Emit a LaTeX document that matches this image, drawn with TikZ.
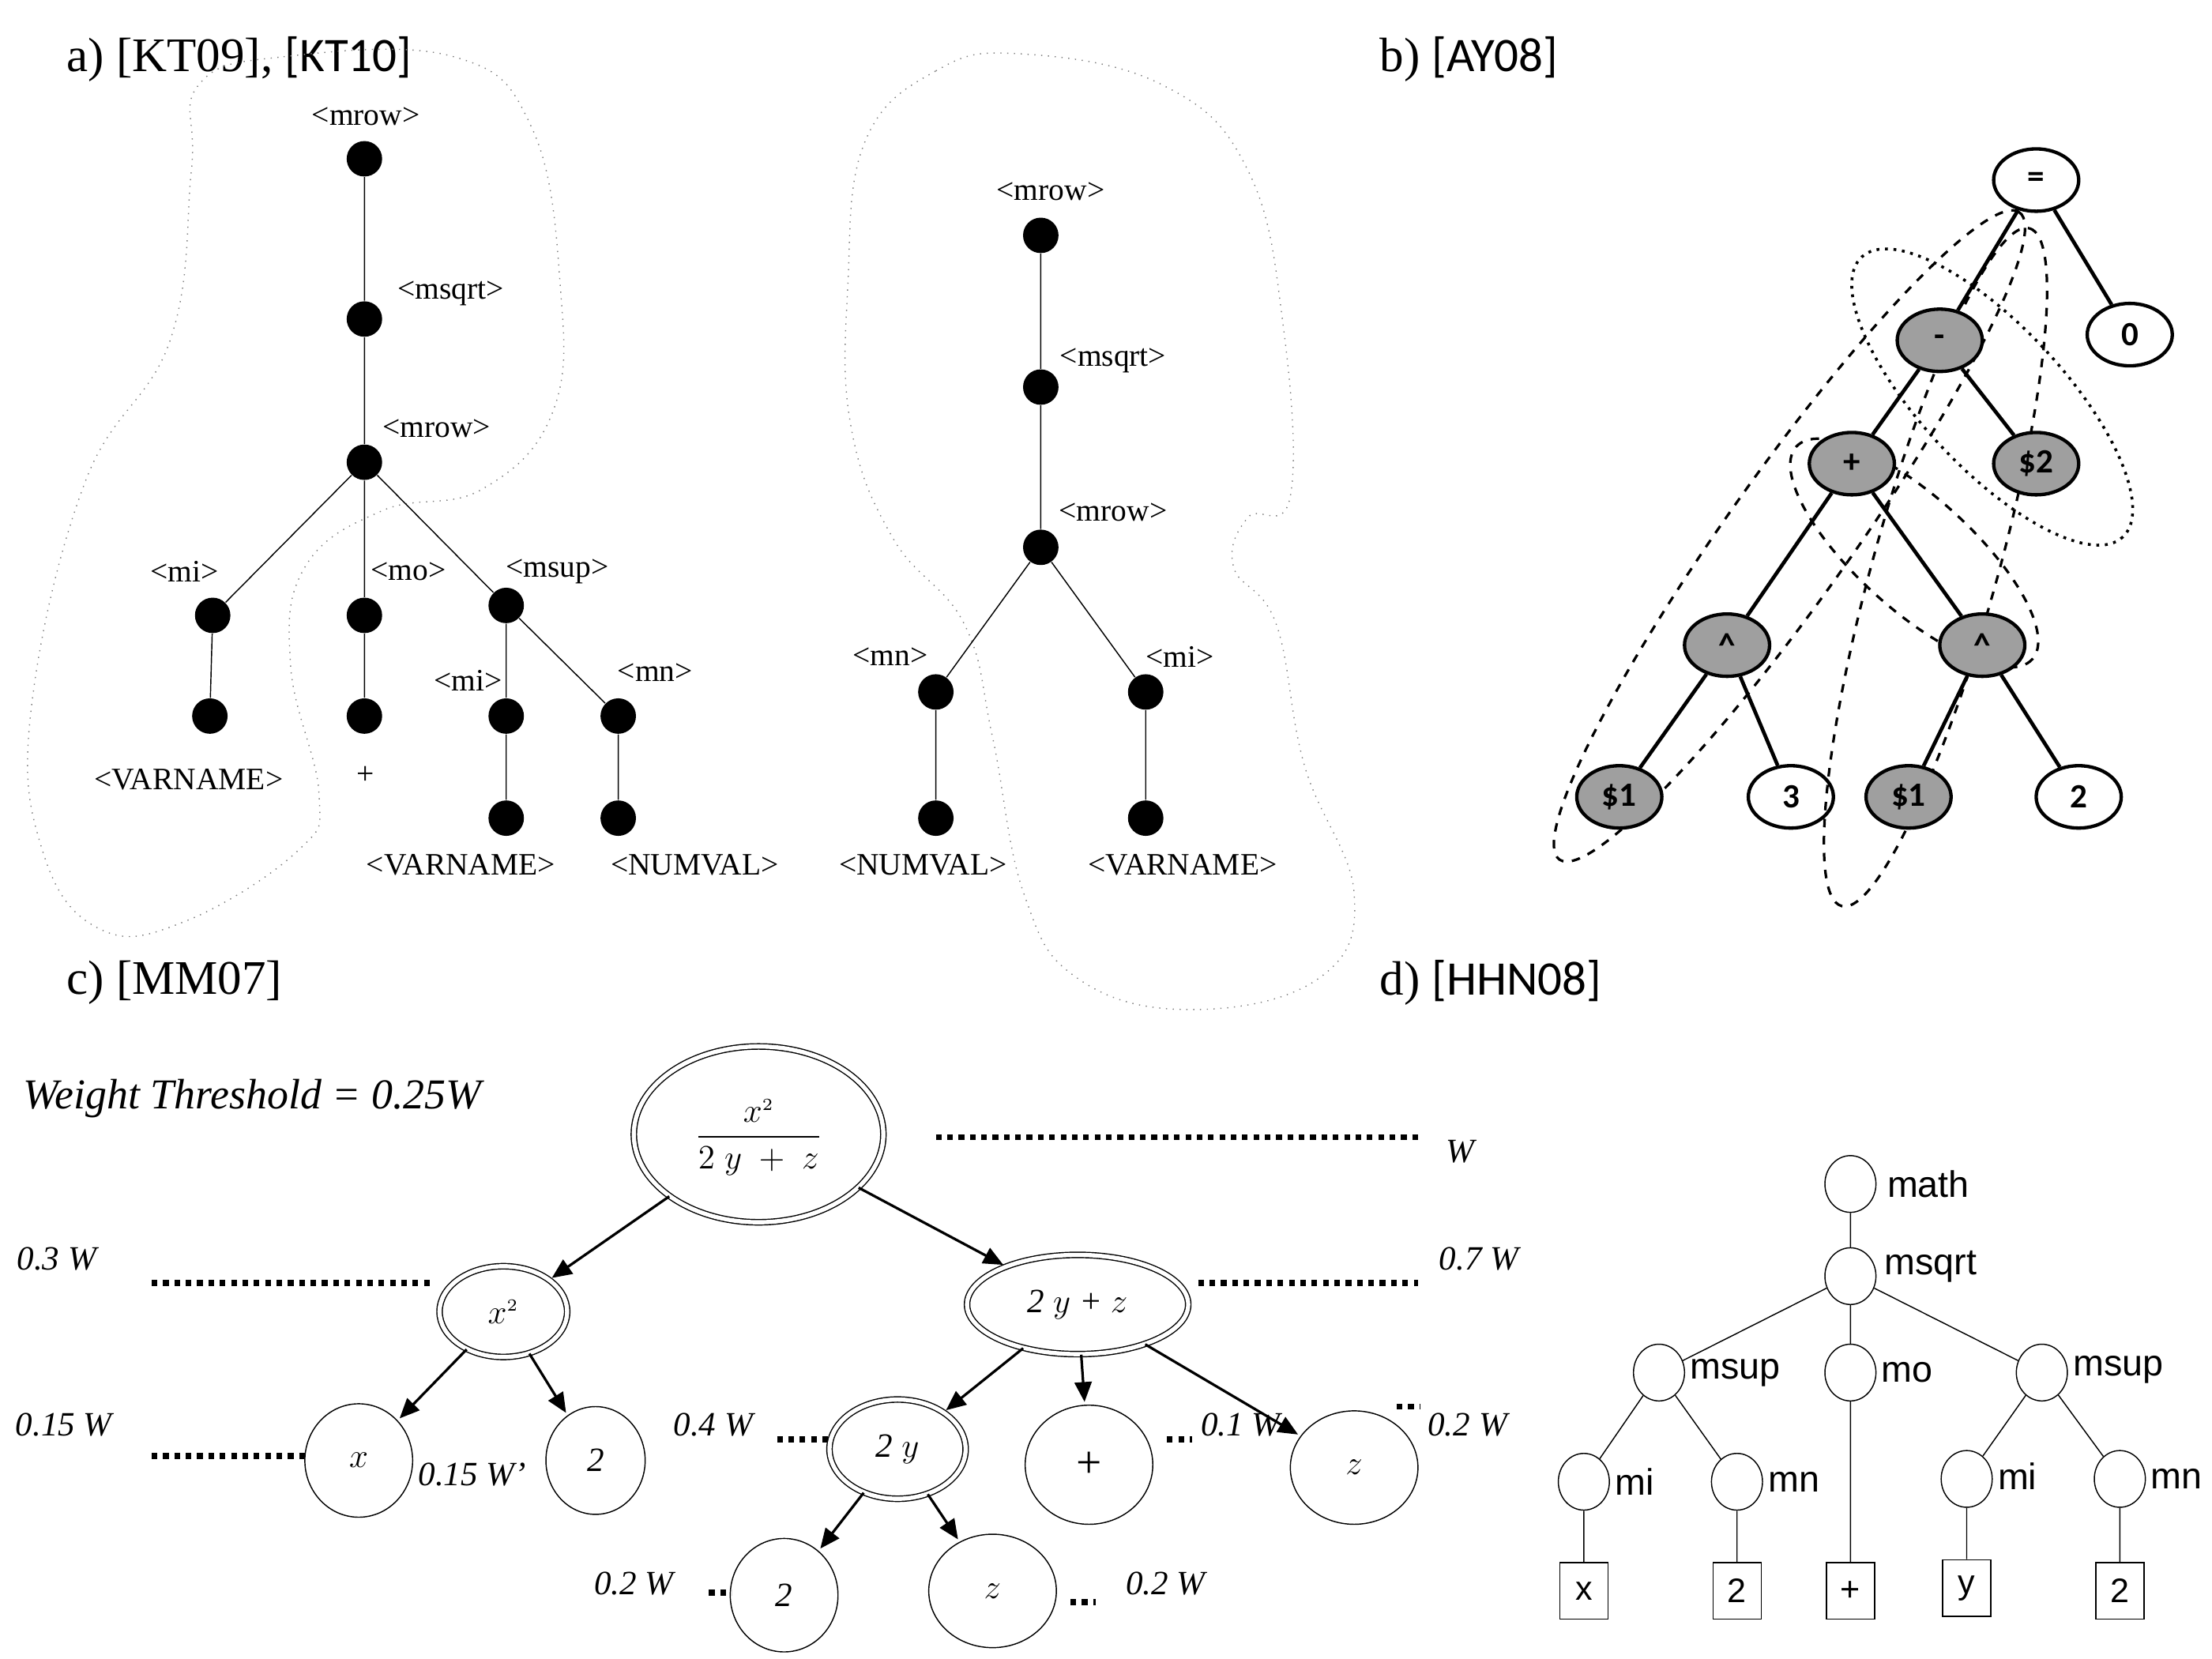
\documentclass[tikz,border=0pt]{standalone}
\usepackage{fontspec}
\setmainfont{Liberation Serif}
\newfontfamily\car{Carlito}
\newfontfamily\ari{Liberation Sans}
\usetikzlibrary{shapes.geometric,arrows.meta}
\begin{document}
\begin{tikzpicture}[x=0.5pt,y=-0.5pt,
 dot/.style={circle,fill=black,inner sep=0,minimum size=12.5pt},
 al/.style={font=\fontsize{11}{12}\selectfont},
 hd/.style={font=\fontsize{17}{18}\selectfont,anchor=west},
 bn/.style={ellipse,draw,line width=1.2pt,minimum width=30pt,minimum height=22pt,inner sep=0,font=\car\bfseries\fontsize{12}{13}\selectfont},
 bg/.style={bn,fill=gray!75},
 be/.style={line width=1.3pt},
 cd/.style={ellipse,draw,double,double distance=1.5pt,inner sep=0},
 cs/.style={ellipse,draw,inner sep=0},
 ca/.style={-{Triangle[length=7pt,width=6pt]},line width=0.9pt,shorten >=1pt},
 dl/.style={line width=2.2pt,dash pattern=on 2pt off 2pt},
 ct/.style={font=\itshape\fontsize{12}{13}\selectfont},
 dn/.style={ellipse,draw,minimum width=18pt,minimum height=20pt,inner sep=0},
 db/.style={draw,minimum width=17pt,minimum height=20pt,inner sep=0,font=\ari\fontsize{12}{13}\selectfont},
 dt/.style={font=\ari\fontsize{13}{14}\selectfont,anchor=west}]
\useasboundingbox (0,0) rectangle (1560,1170);
% headings
\node[hd] (ha) at (40,42) {a) [KT09], {\car[KT10]}};
\node[hd] (hb) at (966,42) {b) {\car[AY08]}};
\node[hd] (hc) at (40,693) {c) [MM07]};
\node[hd] (hd) at (966,693) {d) {\car[HHN08]}};
% panel a blobs
\draw[dotted,gray] plot[smooth cycle,tension=0.7] coordinates {(140,60)(200,40)(320,40)(375,90)(395,200)(390,290)(340,345)(270,360)(215,400)(205,470)(225,560)(210,600)(130,650)(70,655)(30,600)(22,500)(60,340)(120,240)(135,120)};
\draw[dotted,gray] plot[smooth cycle,tension=0.7] coordinates {(610,100)(660,50)(720,38)(820,60)(880,120)(905,230)(910,350)(880,365)(870,400)(900,440)(920,540)(955,630)(930,690)(840,712)(760,690)(722,630)(700,520)(680,440)(630,380)(600,300)(598,200)};
% tree 1
\node[dot] (a1) at (257,112) {};
\node[dot] (a2) at (257,225) {};
\node[dot] (a3) at (257,326) {};
\node[dot] (a4) at (150,434) {};
\node[dot] (a5) at (148,505) {};
\node[dot] (a6) at (257,434) {};
\node[dot] (a7) at (257,505) {};
\node[dot] (a8) at (357,427) {};
\node[dot] (a9) at (357,505) {};
\node[dot] (a10) at (357,577) {};
\node[dot] (a11) at (436,505) {};
\node[dot] (a12) at (436,577) {};
\draw (a1)--(a2)--(a3) (a3)--(a4)--(a5) (a3)--(a6)--(a7) (a3)--(a8)--(a9)--(a10) (a8)--(a11)--(a12);
\node[al] (l1) at (258,82) {<mrow>};
\node[al] (l2) at (318,207) {<msqrt>};
\node[al] (l3) at (308,302) {<mrow>};
\node[al] (l4) at (130,403) {<mi>};
\node[al] (l5) at (288,403) {<mo>};
\node[al] (l6) at (393,403) {<msup>};
\node[al] (l7) at (330,480) {<mi>};
\node[al] (l8) at (462,474) {<mn>};
\node[al] (l9) at (133,550) {<VARNAME>};
\node[al] (l10) at (258,547) {+};
\node[al] (l11) at (325,610) {<VARNAME>};
\node[al] (l12) at (490,610) {<NUMVAL>};
% tree 2
\node[dot] (b1) at (734,166) {};
\node[dot] (b2) at (734,273) {};
\node[dot] (b3) at (734,386) {};
\node[dot] (b4) at (660,488) {};
\node[dot] (b5) at (660,577) {};
\node[dot] (b6) at (808,488) {};
\node[dot] (b7) at (808,577) {};
\draw (b1)--(b2)--(b3) (b3)--(b4)--(b5) (b3)--(b6)--(b7);
\node[al] (m1) at (741,135) {<mrow>};
\node[al] (m2) at (785,254) {<msqrt>};
\node[al] (m3) at (785,361) {<mrow>};
\node[al] (m4) at (628,463) {<mn>};
\node[al] (m5) at (832,463) {<mi>};
\node[al] (m6) at (651,610) {<NUMVAL>};
\node[al] (m7) at (834,610) {<VARNAME>};
% panel b
\draw[dashed,line width=0.9pt,rotate around={54.6:(1262,378)}] (1262,378) ellipse (280 and 44);
\draw[dashed,line width=0.9pt,rotate around={74.5:(1365,400)}] (1365,400) ellipse (248 and 44);
\draw[dashed,line width=0.9pt,rotate around={-42:(1350,390)}] (1350,390) ellipse (112 and 40);
\draw[dotted,line width=1pt,rotate around={-47:(1405,280)}] (1405,280) ellipse (135 and 50);
\node[bn] (q1) at (1436,127) {=};
\node[bg] (q2) at (1368,240) {-};
\node[bn] (q3) at (1502,236) {0};
\node[bg] (q4) at (1306,327) {+};
\node[bg] (q5) at (1436,327) {\$2};
\node[bg] (q6) at (1218,455) {\^{}};
\node[bg] (q7) at (1398,455) {\^{}};
\node[bg] (q8) at (1142,562) {\$1};
\node[bn] (q9) at (1263,562) {3};
\node[bg] (q10) at (1346,562) {\$1};
\node[bn] (q11) at (1466,562) {2};
\draw[be] (q1)--(q2) (q1)--(q3) (q2)--(q4) (q2)--(q5) (q4)--(q6) (q4)--(q7) (q6)--(q8) (q6)--(q9) (q7)--(q10) (q7)--(q11);
% panel c
\node[font=\itshape\fontsize{15}{16}\selectfont] (wt) at (178,775) {Weight Threshold = 0.25W};
\node[cd,minimum width=88pt,minimum height=62pt] (c1) at (535,800) {};
\node[font=\fontsize{13}{14}\selectfont] (c1t) at (535,802) {$\displaystyle\frac{x^{\scriptscriptstyle 2}}{2\;y\;+\;z}$};
\node[cd,minimum width=45pt,minimum height=32pt,ct] (c2) at (355,925) {$x^{\scriptscriptstyle 2}$};
\node[cd,minimum width=78pt,minimum height=35pt,ct] (c3) at (760,920) {2 $y$ + $z$};
\node[cd,minimum width=48pt,minimum height=35pt,ct] (c4) at (633,1022) {2 $y$};
\node[cs,minimum width=38pt,minimum height=40pt,ct] (c5) at (253,1030) {$x$};
\node[cs,minimum width=35pt,minimum height=38pt,ct] (c6) at (420,1030) {2};
\node[cs,minimum width=45pt,minimum height=42pt,font=\fontsize{16}{16}\selectfont] (c7) at (768,1033) {+};
\node[cs,minimum width=45pt,minimum height=40pt,ct] (c8) at (955,1035) {$z$};
\node[cs,minimum width=38pt,minimum height=40pt,ct] (c9) at (553,1125) {2};
\node[cs,minimum width=45pt,minimum height=40pt,ct] (c10) at (700,1122) {$z$};
\draw[ca] (c1)--(c2); \draw[ca] (c1)--(c3);
\draw[ca] (c2)--(c5); \draw[ca] (c2)--(c6);
\draw[ca] (c3)--(c4); \draw[ca] (c3)--(c7); \draw[ca] (c3)--(c8);
\draw[ca] (c4)--(c9); \draw[ca] (c4)--(c10);
\coordinate (d1a) at (660,802); \coordinate (d1b) at (1000,802);
\draw[dl] (d1a)--(d1b);
\node[ct] (w1) at (1030,812) {W};
\node[ct] (w2) at (40,888) {0.3 W};
\coordinate (d2a) at (107,905); \coordinate (d2b) at (305,905); \draw[dl] (d2a)--(d2b);
\node[ct] (w3) at (1043,888) {0.7 W};
\coordinate (d3a) at (845,905); \coordinate (d3b) at (1000,905); \draw[dl] (d3a)--(d3b);
\node[ct] (w4) at (45,1005) {0.15 W};
\coordinate (d4a) at (107,1027); \coordinate (d4b) at (215,1027); \draw[dl] (d4a)--(d4b);
\node[ct] (w5) at (333,1040) {0.15 W'};
\node[ct] (w6) at (503,1005) {0.4 W};
\coordinate (d5a) at (548,1015); \coordinate (d5b) at (584,1015); \draw[dl] (d5a)--(d5b);
\node[ct] (w7) at (875,1005) {0.1 W};
\coordinate (d6a) at (823,1015); \coordinate (d6b) at (841,1015); \draw[dl] (d6a)--(d6b);
\node[ct] (w8) at (1035,1005) {0.2 W};
\coordinate (d7a) at (985,992); \coordinate (d7b) at (1002,992); \draw[dl] (d7a)--(d7b);
\node[ct] (w9) at (447,1117) {0.2 W};
\coordinate (d8a) at (500,1123); \coordinate (d8b) at (516,1123); \draw[dl] (d8a)--(d8b);
\node[ct] (w10) at (822,1117) {0.2 W};
\coordinate (d9a) at (755,1130); \coordinate (d9b) at (773,1130); \draw[dl] (d9a)--(d9b);
% panel d
\node[dn] (e1) at (1305,835) {};
\node[dn] (e2) at (1305,900) {};
\node[dn] (e3) at (1170,968) {};
\node[dn] (e4) at (1305,968) {};
\node[dn] (e5) at (1440,968) {};
\node[dn] (e6) at (1117,1045) {};
\node[dn] (e7) at (1225,1045) {};
\node[dn] (e8) at (1387,1043) {};
\node[dn] (e9) at (1495,1043) {};
\node[db] (f1) at (1117,1122) {x};
\node[db] (f2) at (1225,1122) {2};
\node[db] (f3) at (1305,1122) {+};
\node[db] (f4) at (1387,1120) {y};
\node[db] (f5) at (1495,1122) {2};
\draw (e1)--(e2) (e2)--(e3) (e2)--(e4) (e2)--(e5) (e3)--(e6) (e3)--(e7) (e5)--(e8) (e5)--(e9)
 (e6)--(f1) (e7)--(f2) (e4)--(f3) (e8)--(f4) (e9)--(f5);
\node[dt] (g1) at (1324,835) {math};
\node[dt] (g2) at (1322,893) {msqrt};
\node[dt] (g3) at (1185,968) {msup};
\node[dt] (g4) at (1320,968) {mo};
\node[dt] (g5) at (1455,966) {msup};
\node[dt] (g6) at (1132,1045) {mi};
\node[dt] (g7) at (1240,1045) {mn};
\node[dt] (g8) at (1402,1041) {mi};
\node[dt] (g9) at (1510,1043) {mn};
\end{tikzpicture}
\end{document}
